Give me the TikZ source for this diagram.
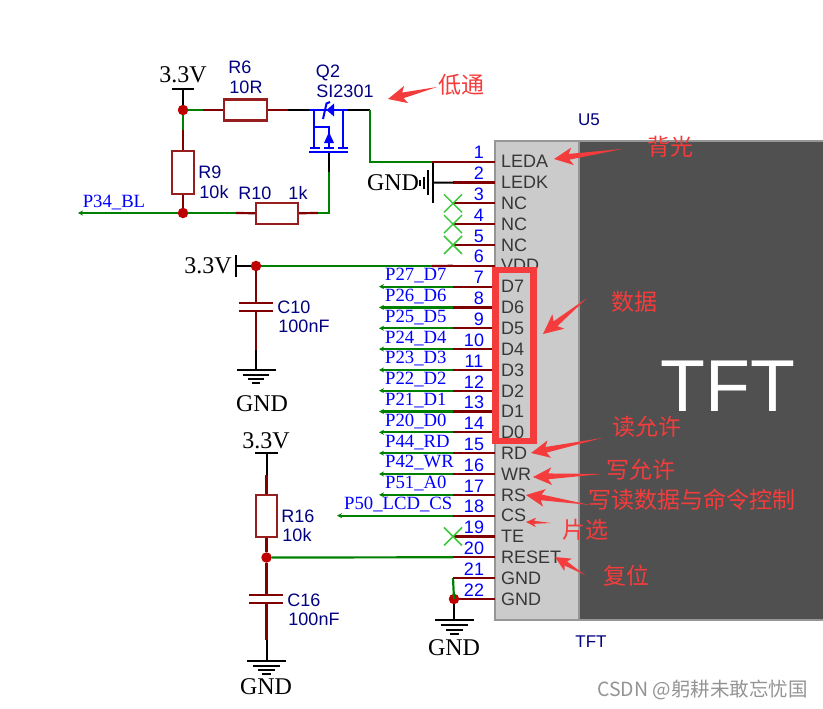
\documentclass[tikz,border=0pt]{standalone}
\usepackage{fontspec}
\setmainfont{Liberation Serif}
\setsansfont{Liberation Sans}
\newfontfamily\cjk{Noto Sans CJK SC}
\usetikzlibrary{calc,arrows.meta}
\definecolor{wgreen}{RGB}{0,128,0}
\definecolor{wred}{RGB}{128,0,0}
\definecolor{boxred}{RGB}{150,30,30}
\definecolor{jred}{RGB}{190,0,0}
\definecolor{navy1}{RGB}{0,0,128}
\definecolor{ann}{RGB}{245,60,60}
\definecolor{pinname}{RGB}{55,55,55}
\definecolor{chipl}{RGB}{203,203,203}
\definecolor{chipd}{RGB}{80,80,80}
\definecolor{chipb}{RGB}{150,150,150}
\definecolor{qblue}{RGB}{0,0,255}
\definecolor{xgreen}{RGB}{60,200,60}
\newcommand{\fsz}[1]{\fontsize{#1}{#1}\selectfont}
% tapered annotation arrow: tail, tip, head scale
\newcommand{\annarrow}[3]{%
  \path let \p1=(#1), \p2=(#2), \n1={atan2(\y1-\y2,\x1-\x2)}, \n2={veclen(\x1-\x2,\y1-\y2)} in
    [fill=ann, shift={(#2)}, rotate=\n1]
    (0pt,0pt) -- (#3*1.1pt,#3*0.52pt) -- (#3*0.9pt,#3*0.17pt) -- (\n2,0pt) -- (#3*0.9pt,-#3*0.17pt) -- (#3*1.1pt,-#3*0.52pt) -- cycle;}
\tikzset{
  wire/.style={line width=2.2pt,wgreen},
  rwire/.style={line width=2.2pt,wred},
  kwire/.style={line width=2pt,black},
  sym/.style={line width=2pt},
  qsym/.style={line width=2pt,qblue},
  rbox/.style={draw=boxred,line width=2.2pt,fill=white,inner sep=0pt},
  dot/.style={circle,fill=jred,inner sep=0pt,minimum size=10.5pt},
  nc/.style={line width=1.5pt,xgreen},
  pnum/.style={font=\sffamily\fsz{18},text=qblue,inner sep=0pt},
  pname/.style={font=\sffamily\fsz{18},text=pinname,inner sep=0pt,anchor=west},
  net/.style={font=\fsz{18.7},text=qblue,inner sep=0pt},
  pwr/.style={font=\fsz{24},text=black,inner sep=0pt},
  part/.style={font=\sffamily\fsz{18},text=navy1,inner sep=0pt},
  anntext/.style={font=\cjk\fsz{23},text=ann,inner sep=0pt},
}
\begin{document}
\begin{tikzpicture}[x=1pt,y=-1pt]
\useasboundingbox (0,0) rectangle (823,709);
\fill[white] (0,0) rectangle (823,709);
% chip
\fill[chipl] (495,141) rectangle (579,620);
\fill[chipd] (579,141) rectangle (823,620);
\draw[chipb,line width=2.6pt] (823,141) -- (495,141) -- (495,620) -- (823,620);
\draw[chipb,line width=2.6pt] (579,141) -- (579,620);
\node[font=\sffamily\fsz{73.5},text=white,inner sep=0pt] (bigtft) at (728,386) {TFT};
\node[font=\sffamily\fsz{17},text=navy1,inner sep=0pt] (u5) at (589,120) {U5};
\node[font=\sffamily\fsz{17},text=navy1,inner sep=0pt] (tftl) at (591,642) {TFT};
% pins: n / name
\foreach \n/\nm in {1/LEDA,2/LEDK,3/NC,4/NC,5/NC,6/VDD,7/D7,8/D6,9/D5,10/D4,11/D3,12/D2,13/D1,14/D0,15/RD,16/WR,17/RS,18/CS,19/TE,20/RESET,21/GND,22/GND}{
  \pgfmathsetmacro{\py}{161.7+20.82*(\n-1)}
  \coordinate (pin\n) at (495,\py);
  \coordinate (st\n) at (453,\py);
  \draw[rwire] (pin\n) -- (st\n);
  \node[pname] (name\n) at (501,\py) {\nm};
  \ifnum\n<10
    \node[pnum] (num\n) at (479,\py-9) {\n};
  \else
    \node[pnum] (num\n) at (474,\py-9) {\n};
  \fi
}
% data nets
\foreach \n/\t/\e in {7/P27\_D7/379,8/P26\_D6/379,9/P25\_D5/379,10/P24\_D4/379,11/P23\_D3/379,12/P22\_D2/379,13/P21\_D1/379,14/P20\_D0/379,15/P44\_RD/379,16/P42\_WR/379,17/P51\_A0/379,18/P50\_LCD\_CS/337}{
  \coordinate (end\n) at ($(st\n)+(\e-453,0)$);
  \draw[wire,-{Stealth[length=5pt,width=5pt]}] (st\n) -- (end\n);
  \node[net,anchor=west] (net\n) at ($(end\n)+(\ifnum\n=18 7\else 6\fi,-11)$) {\t};
}
% NC crosses
\foreach \n in {3,4,5,19}{
  \draw[nc] ($(st\n)+(-9,-9)$) -- ($(st\n)+(9,9)$);
  \draw[nc] ($(st\n)+(-9,9)$) -- ($(st\n)+(9,-9)$);
}
% top circuit
\coordinate (vtop) at (183,89);
\node[dot] (j1) at (183,110) {};
\node[dot] (j2) at (183,213) {};
\node[pwr] (v1) at (183,75) {3.3V};
\draw[kwire] (172,89) -- (194,89);
\draw[kwire] (vtop) -- (j1);
\node[rbox,minimum width=43pt,minimum height=21pt] (r6) at (245.5,110) {};
\node[rbox,minimum width=22pt,minimum height=43pt] (r9) at (183,172.5) {};
\node[rbox,minimum width=42pt,minimum height=21pt] (r10) at (277,213.5) {};
\coordinate (qs) at (309,110);
\coordinate (qd) at (370,110);
\coordinate (qg) at (329,152);
\coordinate (p34) at (78,213);
\draw[wire] (j1) -- (203,110);
\draw[rwire] (203,110) -- (r6);
\draw[rwire] (r6) -- (288,110);
\draw[kwire] (288,110) -- (qs);
\draw[wire] (j1) -- (183,130);
\draw[rwire] (183,130) -- (r9);
\draw[rwire] (r9) -- (j2);
\draw[wire,-{Stealth[length=5pt,width=5pt]}] (j2) -- (p34);
\draw[wire] (j2) -- (236,213);
\draw[rwire] (236,213) -- (r10);
\draw[rwire] (r10) -- (318,213);
\draw[wire] (318,213) -- (329,213) -- (329,172);
\draw[kwire] (329,172) -- (qg);
\draw[kwire] (348,110) -- (qd);
\draw[wire] (qd) -- (370,161.7) -- (432,161.7);
\draw[rwire] (432,161.7) -- (st1);
% MOSFET
\draw[qsym] (qs) -- (348,110);
\draw[qsym] (314,110) -- (314,147);
\draw[qsym] (343,110) -- (343,147);
\draw[qsym] (314,127) -- (329,127) -- (329,147);
\draw[qsym] (310,147.5) -- (320,147.5) (324,147.5) -- (334,147.5) (338,147.5) -- (348,147.5);
\draw[qsym] (309,152) -- (348,152);
\fill[qblue] (324,143) -- (334,143) -- (329,132) -- cycle;
\fill[qblue] (334,103.5) -- (334,116.5) -- (326.5,110) -- cycle;
\draw[qsym] (323,119) -- (326.5,103.5) -- (330,102);
% GND horizontal
\node[pwr] (g1) at (393,183) {GND};
\draw[kwire] (st2) -- (432.7,182.5);
\draw[sym] (432.7,163) -- (432.7,202.5);
\draw[sym] (428,170) -- (428,195);
\draw[sym] (424,176.5) -- (424,189);
\draw[sym] (420,180) -- (420,185.5);
% VDD
\node[pwr] (v2) at (208,266) {3.3V};
\node[dot] (j3) at (256,266) {};
\draw[wire] (j3) -- (432,266);
\draw[rwire] (432,266) -- (st6);
\draw[kwire] (235.5,255) -- (235.5,277);
\draw[kwire] (235.5,266) -- (j3);
\draw[rwire] (j3) -- (256,303);
\draw[rwire] (239,303) -- (273,303) (239,311) -- (273,311);
\draw[rwire] (256,311) -- (256,350);
\draw[kwire] (256,350) -- (256,370);
\draw[sym] (237,370) -- (275.5,370);
\draw[sym] (243,374.5) -- (269,374.5);
\draw[sym] (248,378.5) -- (264,378.5);
\draw[sym] (252,383) -- (260,383);
\node[pwr] (g2) at (262,404) {GND};
% reset
\node[pwr] (v3) at (266,441) {3.3V};
\draw[kwire] (255,453) -- (278,453);
\draw[kwire] (266.5,453) -- (266.5,475);
\node[rbox,minimum width=21pt,minimum height=42pt] (r16) at (266.5,516) {};
\node[dot] (j4) at (266.5,557.5) {};
\draw[rwire] (266.5,475) -- (r16);
\draw[rwire] (r16) -- (j4);
\draw[wire] (j4) -- (st20);
\draw[rwire] (j4) -- (266.5,595);
\draw[rwire] (249,595) -- (283,595) (249,603) -- (283,603);
\draw[rwire] (266.5,603) -- (266.5,640);
\draw[kwire] (266.5,640) -- (266.5,661);
\draw[sym] (247,661) -- (286,661);
\draw[sym] (253,666) -- (280,666);
\draw[sym] (258,670) -- (275,670);
\draw[sym] (262,674) -- (271,674);
\node[pwr] (g3) at (266,687) {GND};
% pin 21/22 gnd
\node[dot] (j5) at (454,599) {};
\draw[wire] (st21) -- (454,599);
\draw[rwire] (st21) -- (pin21);
\draw[kwire] (j5) -- (454,620);
\draw[sym] (435,620) -- (474,620);
\draw[sym] (441,625) -- (468,625);
\draw[sym] (446,629.5) -- (463,629.5);
\draw[sym] (450,633.5) -- (459,633.5);
\node[pwr] (g4) at (454,648) {GND};
% part labels
\node[part] (l1) at (240,67) {R6};
\node[part] (l2) at (246,87) {10R};
\node[part] (l3) at (328,73) {Q2};
\node[part] (l4) at (345,91) {SI2301};
\node[part] (l5) at (210,172) {R9};
\node[part] (l6) at (214,192) {10k};
\node[part] (l7) at (255,193) {R10};
\node[part] (l8) at (298,193) {1k};
\node[net] (l9) at (114,203) {P34\_BL};
\node[part] (l10) at (294,307) {C10};
\node[part] (l11) at (304,326) {100nF};
\node[part] (l12) at (298,516) {R16};
\node[part] (l13) at (297,535) {10k};
\node[part] (l14) at (304,600) {C16};
\node[part] (l15) at (314,619) {100nF};
% annotations
\draw[ann,line width=6.5pt] (495.5,270) rectangle (533.5,441);
\annarrow{437,87}{388,99}{17}
\node[anntext] (a1) at (461,85) {低通};
\annarrow{622,149}{554,159}{17}
\node[anntext] (a2) at (670,147) {背光};
\annarrow{587,298}{543,334}{18}
\node[anntext] (a3) at (634,302) {数据};
\annarrow{602,438}{531,453}{17}
\node[anntext] (a4) at (647,427) {读允许};
\annarrow{602,474}{533,477}{17}
\node[anntext] (a5) at (641,470) {写允许};
\annarrow{590,505}{526,495}{17}
\node[anntext] (a6) at (692,500) {写读数据与命令控制};
\annarrow{551,523}{526,522}{9}
\node[anntext] (a7) at (585,530) {片选};
\annarrow{585,575}{555,557}{14}
\node[anntext] (a8) at (626,576) {复位};
\node[font=\cjk\fsz{19.5},text=black!42,inner sep=0pt,anchor=east] (wm) at (808,690) {CSDN @躬耕未敢忘忧国};
\end{tikzpicture}
\end{document}
